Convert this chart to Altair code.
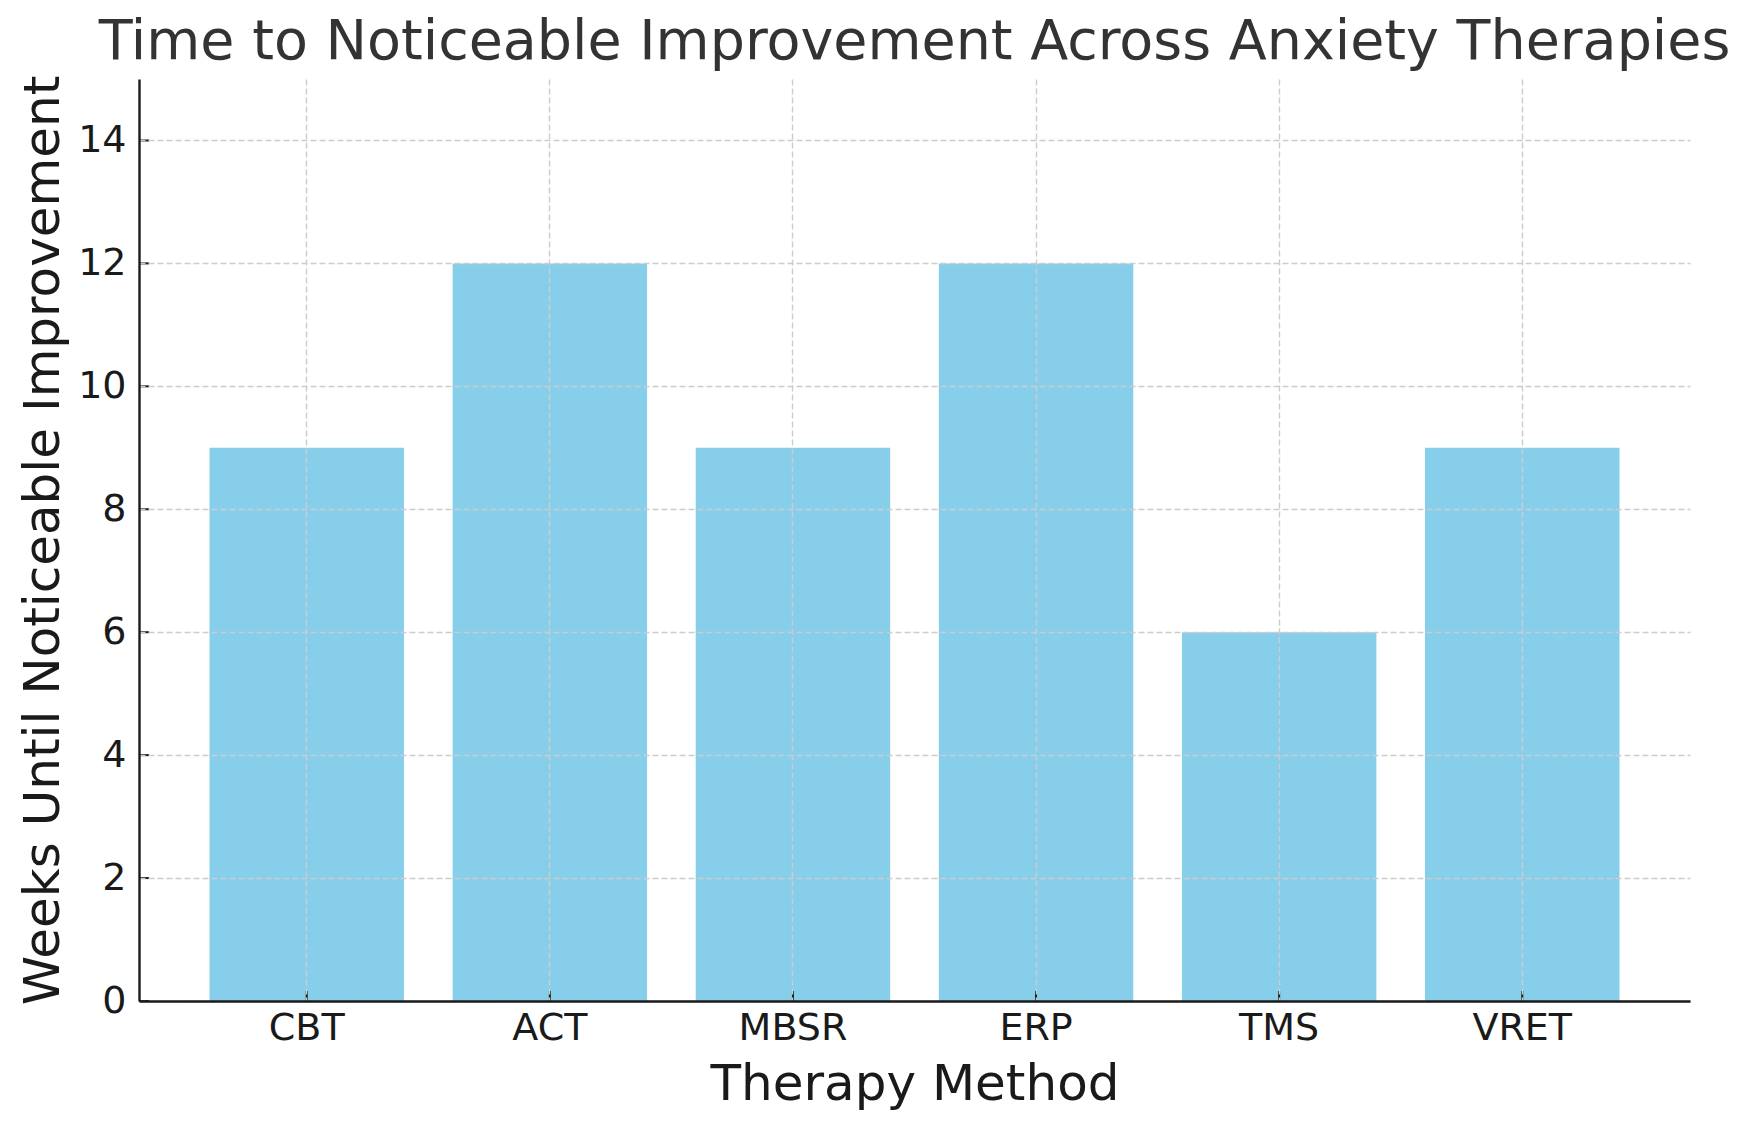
import altair as alt
import pandas as pd

therapies = ["CBT", "ACT", "MBSR", "ERP", "TMS", "VRET"]
weeks = [9, 12, 9, 12, 6, 9]
y_ticks = [0, 2, 4, 6, 8, 10, 12, 14]

W, H = 1551, 922
FONT = "DejaVu Sans"

df = pd.DataFrame({"therapy": therapies, "weeks": weeks})
df_yt = pd.DataFrame({"weeks": y_ticks})

x_enc = alt.X(
    "therapy:N",
    sort=therapies,
    scale=alt.Scale(paddingInner=0.2, paddingOuter=0.29),
    axis=alt.Axis(
        title="Therapy Method",
        labelAngle=0,
        labelFontSize=38,
        labelColor="#1a1a1a",
        labelPadding=8,
        titleFontSize=50,
        titleFontWeight="normal",
        titleColor="#1a1a1a",
        titlePadding=12,
        ticks=False,
        grid=True,
        bandPosition=0.5,
        gridColor="#cccccc",
        gridDash=[6, 3],
        gridWidth=1.4,
        domainColor="#1a1a1a",
        domainWidth=2.4,
        zindex=1,
    ),
)

y_enc = alt.Y(
    "weeks:Q",
    scale=alt.Scale(domain=[0, 15], nice=False, zero=True),
    axis=alt.Axis(
        title="Weeks Until Noticeable Improvement",
        values=y_ticks,
        labelFontSize=38,
        labelColor="#1a1a1a",
        labelPadding=13,
        titleFontSize=50,
        titleFontWeight="normal",
        titleColor="#1a1a1a",
        titlePadding=9,
        ticks=False,
        grid=True,
        gridColor="#cccccc",
        gridDash=[6, 3],
        gridWidth=1.4,
        domainColor="#1a1a1a",
        domainWidth=2.4,
        zindex=1,
    ),
)

bars = alt.Chart(df).mark_bar(color="#87CEEB").encode(x=x_enc, y=y_enc)

xticks = alt.Chart(df).mark_rule(color="#1a1a1a", strokeWidth=2).encode(
    x=x_enc, y=alt.value(H), y2=alt.value(H - 10)
)

yticks = alt.Chart(df_yt).mark_rule(color="#1a1a1a", strokeWidth=2).encode(
    y=y_enc, x=alt.value(0), x2=alt.value(10)
)

chart = (
    alt.layer(bars, xticks, yticks)
    .properties(
        width=W,
        height=H,
        title=alt.TitleParams(
            "Time to Noticeable Improvement Across Anxiety Therapies",
            fontSize=55.5,
            fontWeight="normal",
            color="#333333",
            font=FONT,
            anchor="middle",
            offset=5,
        ),
        autosize=alt.AutoSizeParams(type="none"),
        padding={"left": 131, "top": 71, "right": 48, "bottom": 110},
    )
    .configure(font=FONT)
    .configure_view(stroke=None)
    .configure_axis(labelFont=FONT, titleFont=FONT)
)

chart.save("out.html", embed_options={"renderer": "svg", "actions": False})
